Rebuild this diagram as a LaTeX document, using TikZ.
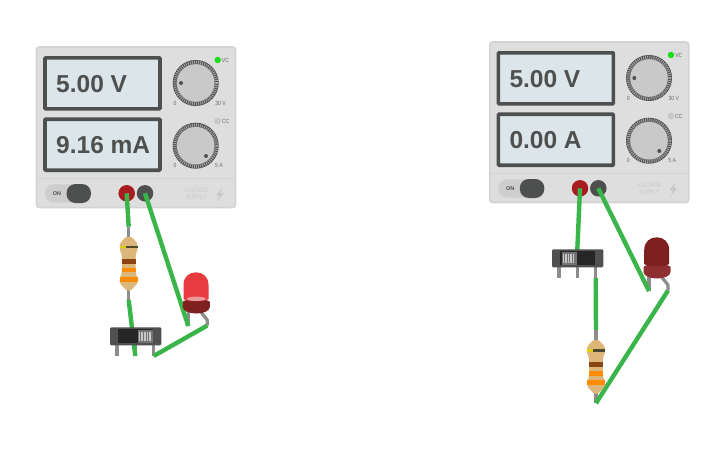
\documentclass[tikz,border=0pt]{standalone}
\usepackage{fontspec}
\setmainfont{Liberation Sans}
\definecolor{panel}{HTML}{DEDEDE}
\definecolor{panelrim}{HTML}{D3D3D3}
\definecolor{lcd}{HTML}{DBE5EA}
\definecolor{ink}{HTML}{4D504F}
\definecolor{knobface}{HTML}{C9C9C9}
\definecolor{knobtick}{HTML}{A8A8A8}
\definecolor{wiregreen}{HTML}{3AB54A}
\definecolor{leadgrey}{HTML}{8C8C8C}
\definecolor{faint}{HTML}{C8C8C8}
\definecolor{termred}{HTML}{A81C1F}
\definecolor{ledbright}{HTML}{E83B40}
\definecolor{leddark}{HTML}{7E1F20}
\definecolor{ledrim}{HTML}{8E3032}
\definecolor{ledpink}{HTML}{E89A9C}
\definecolor{bodytan}{HTML}{DCB678}
\definecolor{bandbrown}{HTML}{8B4513}
\definecolor{bandorange}{HTML}{FF8C00}
\definecolor{swbody}{HTML}{505050}
\definecolor{swslot}{HTML}{262626}
\tikzset{
  wire/.style={draw=wiregreen,line width=4.4pt},
  leadline/.style={draw=leadgrey,line width=3.2pt,line join=round},
  lcdbox/.style={draw=ink,fill=lcd,line width=3.6pt,rounded corners=0.8pt},
  reading/.style={anchor=base west,font=\bfseries\fontsize{24.5}{24.5}\selectfont,text=ink,inner sep=0pt},
  tiny/.style={font=\fontsize{6}{6}\selectfont,text=ink!85,inner sep=0pt,xscale=.85},
  fainttext/.style={font=\fontsize{6.6}{6.6}\selectfont,text=faint,inner sep=0pt,xscale=.8},
  terminal/.style={circle,minimum size=16.5pt,inner sep=0pt}
}
% #1 prefix, #2 dx, #3 dy, #4 second reading
\newcommand{\supplyunit}[4]{%
\begin{scope}[shift={(#2,#3)}]
  \draw[panelrim,fill=panel,line width=1.6pt,rounded corners=3pt] (36.5,47) rectangle (235.5,207.5);
  \draw[panelrim,line width=1pt] (36.5,178.5) -- (235.5,178.5);
  \node[lcdbox,minimum width=115pt,minimum height=51pt,inner sep=0pt] (#1d1) at (102.5,83.3) {};
  \node[lcdbox,minimum width=115pt,minimum height=51pt,inner sep=0pt] (#1d2) at (102.5,144.7) {};
  \node[reading] (#1t1) at (56,92) {5.00 V};
  \node[reading] (#1t2) at (56,153.3) {#4};
  \foreach \ky/\dx/\dy in {83/-14.7/0,145.7/10.3/10.3}{
    \fill[ink] (195.7,\ky) circle (23);
    \draw[knobtick,line width=3pt,dash pattern=on .9pt off 1.2pt] (195.7,\ky) circle (20.9);
    \fill[ink!70!knobface] (195.7,\ky) circle (19.6);
    \fill[knobface] (195.7,\ky) circle (18.8);
    \fill[ink] (195.7+\dx,\ky+\dy) circle (2);
  }
  \fill[green!85!black!90!white] (217.7,60) circle (3.2);
  \fill[knobface,draw=faint,line width=.5pt] (217.7,121) circle (3.2);
  \node[tiny] (#1vc) at (225.5,60) {VC};
  \node[tiny] (#1cc) at (225.5,121) {CC};
  \node[tiny] (#1a0) at (175,103.5) {0};
  \node[tiny] (#1a1) at (220.5,103.5) {30 V};
  \node[tiny] (#1b0) at (175,165) {0};
  \node[tiny] (#1b1) at (219,165) {5 A};
  \fill[faint!90!white,rounded corners=9pt] (45,184.3) rectangle (90,202.7);
  \fill[ink,rounded corners=9pt] (66.5,184) rectangle (91,203);
  \node[font=\bfseries\fontsize{5.5}{5.5}\selectfont,text=ink,inner sep=0pt] (#1on) at (57,194) {ON};
  \node[terminal,fill=termred] (#1red) at (126.7,193.3) {};
  \node[terminal,fill=ink] (#1blk) at (145,193.3) {};
  \node[fainttext] (#1v) at (196,190) {VOLTAGE};
  \node[fainttext] (#1s) at (196,197.3) {SUPPLY};
  \fill[faint] (222.5,187) -- (216,195.5) -- (219.7,195.5) -- (217,202) -- (224,192.8) -- (220.3,192.8) -- cycle;
\end{scope}}
% resistor: #1 prefix, #2 x, #3 dy
\newcommand{\resistorleads}[3]{%
  \coordinate (#1top) at (#2,226.7+#3);
  \coordinate (#1bot) at (#2,300+#3);
  \draw[leadline] (#1top) -- (#1bot);
}
\newcommand{\resistorbody}[3]{%
\begin{scope}[shift={(#2,236.7+#3)}]
  \fill[bodytan] (0,0) .. controls (-3.5,0) and (-4.5,2) .. (-6,3.5) .. controls (-8,5) and (-9,7) .. (-9,11)
     .. controls (-9,15) and (-6.8,16) .. (-6.8,20) -- (-6.8,35)
     .. controls (-6.8,38) and (-9,40) .. (-9,44) .. controls (-9,47) and (-7.5,48.5) .. (-5.5,50) .. controls (-4,52) and (-2.5,54) .. (0,54)
     .. controls (2.5,54) and (4,52) .. (5.5,50) .. controls (7.5,48.5) and (9,47) .. (9,44) .. controls (9,40) and (6.8,38) .. (6.8,35)
     -- (6.8,20) .. controls (6.8,16) and (9,15) .. (9,11) .. controls (9,7) and (8,5) .. (6,3.5) .. controls (4.5,2) and (3.5,0) .. (0,0) -- cycle;
  \fill[yellow!70!olive] (-8.8,9.4) rectangle (-3,11.6);
  \fill[black!60!olive] (-3,9.4) rectangle (8.8,11.6);
  \fill[bandbrown] (-6.8,21.8) rectangle (6.8,26.8);
  \fill[bandorange] (-6.8,31.2) rectangle (6.8,35.6);
  \fill[bandorange] (-8.9,40.2) rectangle (8.9,45);
\end{scope}}
% slide switch: #1 prefix, #2 dx, #3 dy
\newcommand{\switchlegs}[3]{%
\begin{scope}[shift={(#2,#3)}]
  \coordinate (#1l1) at (117,356);
  \coordinate (#1l2) at (135.3,356);
  \coordinate (#1l3) at (153.7,356);
  \coordinate (#1u2) at (135.3,328);
  \foreach \p in {#1l1,#1l2,#1l3}{\draw[leadline] (\p) -- ++(0,-15);}
\end{scope}}
\newcommand{\switchbody}[4]{%
\begin{scope}[shift={(#2,#3)}]
  \fill[swbody,rounded corners=1.2pt] (110,327.3) rectangle (161.3,345.3);
  \fill[swslot] (118,329.3) rectangle (153.3,343.3);
  \fill[black!55] (#4,329.8) rectangle ++(15,13);
  \foreach \i in {1,...,5}{\fill[black!22] (#4+\i*2.6-1.6,331.5) rectangle ++(1.5,9.6);}
\end{scope}}
\newcommand{\ledleads}[3]{%
\begin{scope}[shift={(#2,#3)}]
  \coordinate (#1neg) at (188.3,326);
  \coordinate (#1pos) at (207.3,325.5);
  \draw[leadline] (#1neg) -- (188.3,308);
  \draw[leadline] (201.7,310) -- (201.7,313) -- (207.3,320) -- (#1pos);
\end{scope}}
% #1 prefix, #2 dx, #3 dy, #4 dome, #5 ring, #6 highlight
\newcommand{\ledbody}[6]{%
\begin{scope}[shift={(#2,#3)}]
  \fill[#5] (182.8,302) .. controls (182.8,298.5) and (209.8,298.5) .. (209.8,302) -- (209.8,307) .. controls (209.8,311) and (203,313.5) .. (196.3,313.5) .. controls (189.5,313.5) and (182.8,311) .. (182.8,307) -- cycle;
  \fill[#4] (183.5,299) -- (183.5,285) .. controls (183.5,277) and (189,272.3) .. (196,272.3) .. controls (203,272.3) and (208.5,277) .. (208.5,285) -- (208.5,299) .. controls (205,302) and (187,302) .. (183.5,299) -- cycle;
  \fill[#6] (196.3,298.8) ellipse (9.5 and 2.2);
\end{scope}}
\begin{document}
\begin{tikzpicture}[x=1pt,y=-1pt]
\useasboundingbox (0,0) rectangle (725,453);
\fill[white] (0,0) rectangle (725,453);
% left circuit
\supplyunit{a}{0}{0}{9.16 mA}
\resistorleads{ar}{128.7}{0}
\switchlegs{as}{0}{0}
\ledleads{al}{0}{0}
\draw[wire] (ared.center) -- (artop);
\draw[wire] (ablk.center) -- (alneg);
\draw[wire] (arbot) -- (asl2);
\draw[wire] (asl3) -- (alpos);
\resistorbody{ar}{128.7}{0}
\switchbody{as}{0}{0}{137.8}
\ledbody{al}{0}{0}{ledbright}{leddark}{ledpink}
% right circuit
\supplyunit{b}{453.3}{-5}{0.00 A}
\resistorleads{br}{596}{103.2}
\switchlegs{bs}{442}{-78}
\ledleads{bl}{460.7}{-35}
\draw[wire] (bred.center) -- (bsu2);
\draw[wire] (bblk.center) -- (blneg);
\draw[wire] (bsl3) -- (brtop);
\draw[wire] (brbot) -- (blpos);
\resistorbody{br}{596}{103.2}
\switchbody{bs}{442}{-78}{119.5}
\ledbody{bl}{460.7}{-35}{leddark}{ledrim}{leddark}
\end{tikzpicture}
\end{document}
